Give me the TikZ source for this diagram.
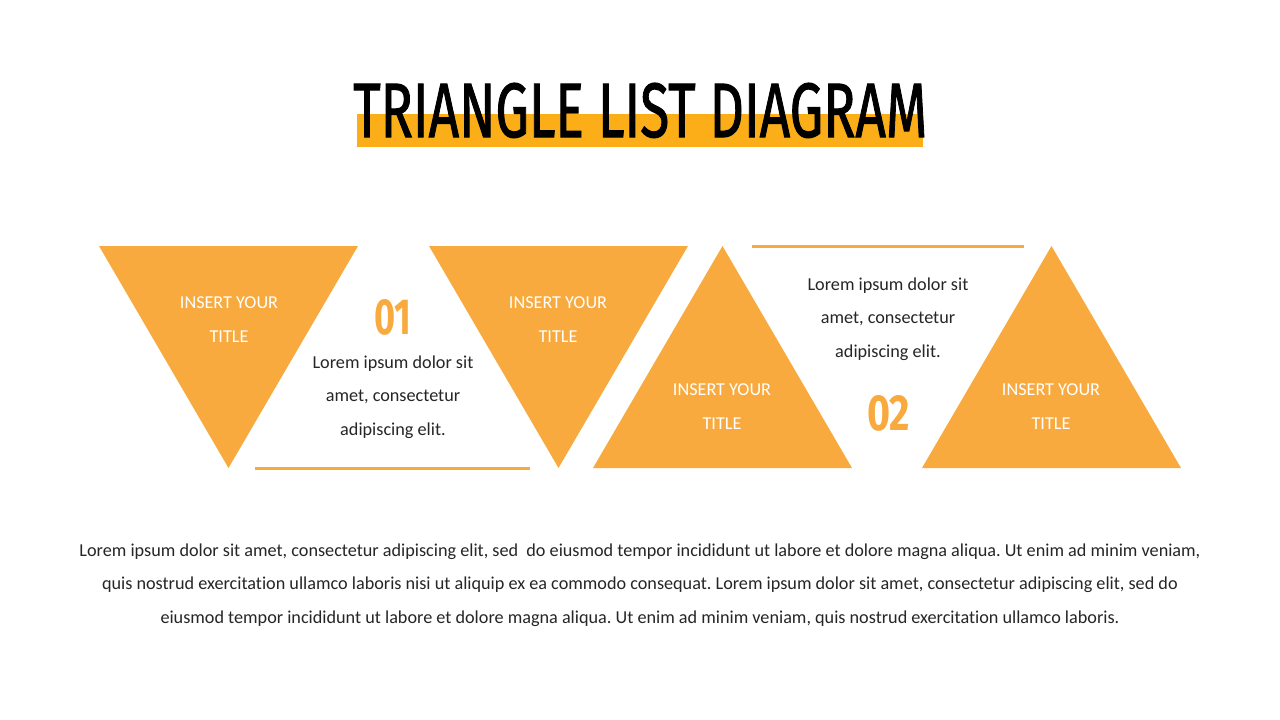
\documentclass[tikz,border=0pt]{standalone}
\usepackage{fontspec}
\setmainfont[Ligatures=NoCommon]{Carlito}
\newfontfamily\headfont{Fira Sans}
\definecolor{tri}{HTML}{F8AA3E}
\definecolor{bar}{HTML}{FBAE17}
\definecolor{ink}{HTML}{262626}
\tikzset{
  tlabel/.style={text=white, align=center, font=\fontsize{18.2}{34}\selectfont},
  ltext/.style={text=ink, align=center, font=\fontsize{18.2}{33.5}\selectfont},
  num/.style={text=tri, inner sep=0pt, anchor=base west},
  rule/.style={tri, line width=3pt}
}
\frenchspacing
\begin{document}
\begin{tikzpicture}[x=1pt, y=-1pt]
\useasboundingbox[fill=white] (0,0) rectangle (1280,720);
% title
\fill[bar] (357,114) rectangle (923,147);
\node[inner sep=0pt, anchor=base west] (title) at (353,137)
	{\resizebox{574pt}{54pt}{\headfont\addfontfeature{FakeBold=1.5}TRIANGLE LIST DIAGRAM}};
% triangles pointing down
\foreach \x in {99,429} \fill[tri]
	(\x,246) -- (\x+259,246) -- (\x+129.5,468) -- cycle;
% triangles pointing up
\foreach \x in {593,922} \fill[tri]
	(\x,468) -- (\x+259,468) -- (\x+129.5,246) -- cycle;
\draw[rule] (255,468) -- (530,468);
\draw[rule] (752,246) -- (1024,246);
% labels
\node[tlabel] (t1) at (229,320) {INSERT YOUR\\TITLE};
\node[tlabel] (t2) at (558,320) {INSERT YOUR\\TITLE};
\node[tlabel] (t3) at (722,407) {INSERT YOUR\\TITLE};
\node[tlabel] (t4) at (1051,407) {INSERT YOUR\\TITLE};
\node[num] (n1) at (374,334)
	{\resizebox{37pt}{35pt}{\headfont\bfseries 01}};
\node[num] (n2) at (867,430)
	{\resizebox{43pt}{35pt}{\headfont\bfseries 02}};
\node[ltext] (l1) at (393,397)
	{Lorem ipsum dolor sit\\amet, consectetur\\adipiscing elit.};
\node[ltext] (l2) at (888,319)
	{Lorem ipsum dolor sit\\amet, consectetur\\adipiscing elit.};
\node[ltext] (body) at (640,585)
	{Lorem ipsum dolor sit amet, consectetur adipiscing elit, sed\ \ do eiusmod tempor incididunt ut labore et dolore magna aliqua. Ut enim ad minim veniam,\\
	quis nostrud exercitation ullamco laboris nisi ut aliquip ex ea commodo consequat. Lorem ipsum dolor sit amet, consectetur adipiscing elit, sed do\\
	eiusmod tempor incididunt ut labore et dolore magna aliqua. Ut enim ad minim veniam, quis nostrud exercitation ullamco laboris.};
\end{tikzpicture}
\end{document}
